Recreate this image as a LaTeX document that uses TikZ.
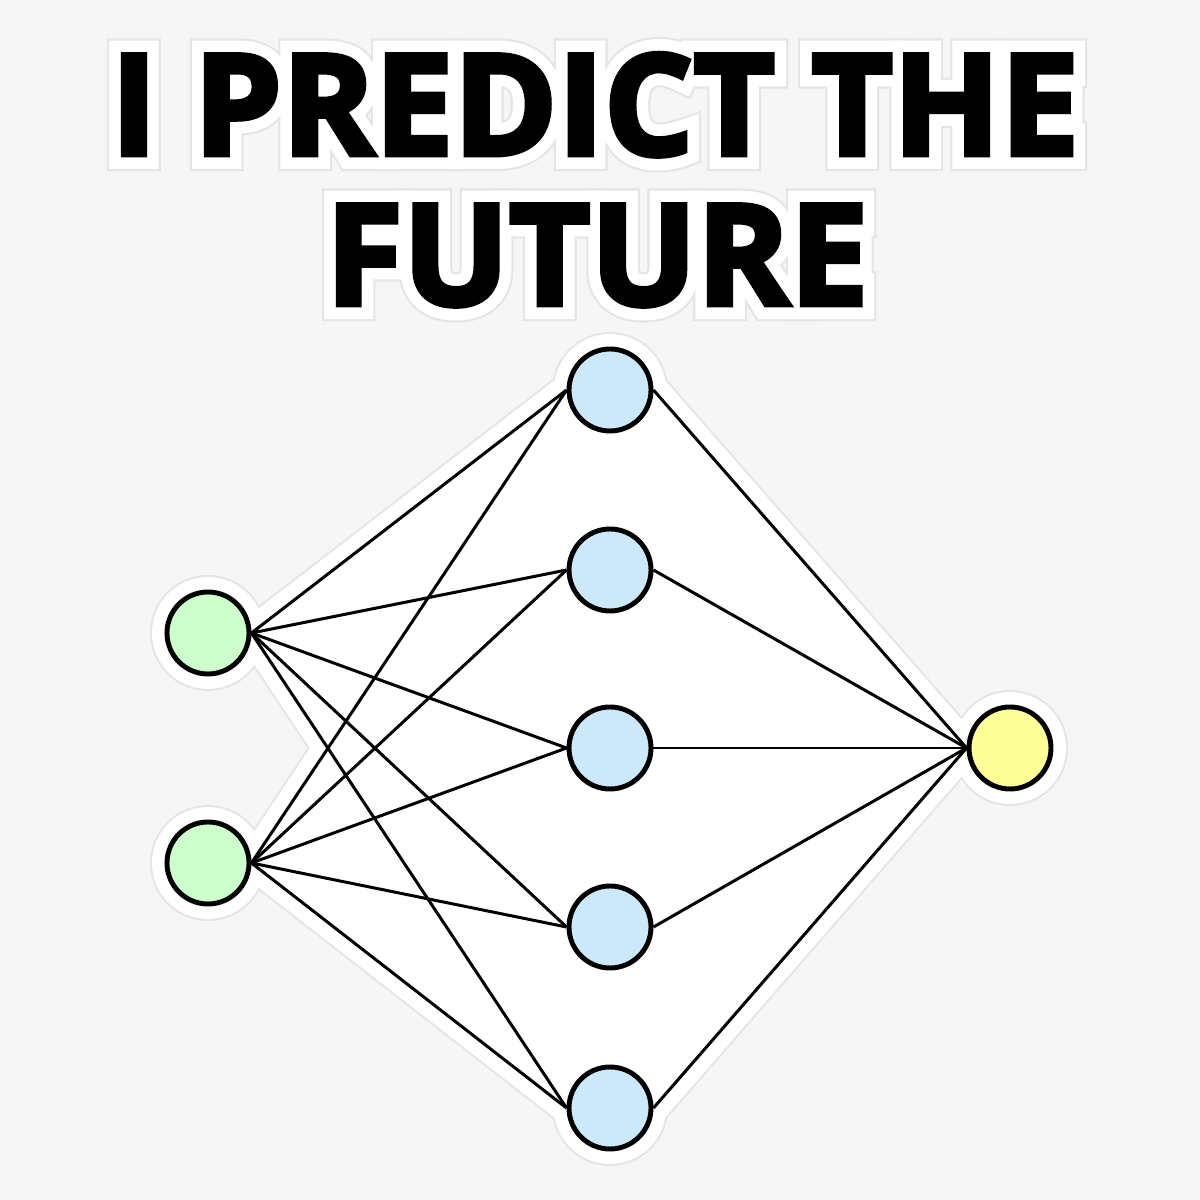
\documentclass[tikz,border=0pt]{standalone}
\usepackage{fontspec}
\setmainfont{Open Sans}
\usetikzlibrary{backgrounds,calc}
\definecolor{stickerbg}{HTML}{F6F6F6}
\definecolor{ingreen}{HTML}{CCFFCC}
\definecolor{hidblue}{HTML}{CCE9FB}
\definecolor{outyellow}{HTML}{FFFF99}
\newcommand\halotext[1]{%
  \rlap{\color{gray!20}\addfontfeature{FakeBold=23}#1}%
  \rlap{\color{white}\addfontfeature{FakeBold=20}#1}%
  {\addfontfeature{FakeBold=3.5}#1}}
\tikzset{
  neuron/.style={circle, draw=black, line width=1.4pt, minimum size=0.82cm, inner sep=0pt},
  synapse/.style={black, line width=0.85pt},
  title/.style={font=\bfseries\fontsize{40}{40}\selectfont, inner sep=0pt, anchor=base},
}
\begin{document}
\begin{tikzpicture}
\useasboundingbox (0,0) rectangle (12,12);
% title
\node[title] (line1) at (5.95,10.45) {\halotext{I PREDICT THE}};
\node[title] (line2) at (5.97,8.95) {\halotext{FUTURE}};
% network
\node[neuron, fill=ingreen] (i1) at (2.08,5.67) {};
\node[neuron, fill=ingreen] (i2) at (2.08,3.37) {};
\foreach \n/\y in {1/8.10,2/6.30,3/4.52,4/2.73,5/0.92}
  \node[neuron, fill=hidblue] (h\n) at (6.10,\y) {};
\node[neuron, fill=outyellow] (o) at (10.10,4.52) {};
\foreach \i in {1,2}
  \foreach \h in {1,...,5}
    \draw[synapse] (i\i.east) -- (h\h.west);
\foreach \h in {1,...,5}
  \draw[synapse] (h\h.east) -- (o.west);
% sticker underlay
\coordinate (notch) at (intersection of i1.east--h5.west and i2.east--h1.west);
\begin{pgfonlayer}{background}
\fill[stickerbg] (0,0) rectangle (12,12);
\draw[gray!20, fill=gray!20, line width=0.34cm, line join=round]
  (i1.east) -- (h1.west) -- (h1.east) -- (o.west) -- (h5.east) -- (h5.west)
  -- (i2.east) -- (notch) -- cycle;
\foreach \n in {i1,i2,h1,h5,o}
  \fill[gray!20] (\n.center) circle[radius=0.58];
\draw[white, fill=white, line width=0.3cm, line join=round]
  (i1.east) -- (h1.west) -- (h1.east) -- (o.west) -- (h5.east) -- (h5.west)
  -- (i2.east) -- (notch) -- cycle;
\foreach \n in {i1,i2,h1,h5,o}
  \fill[white] (\n.center) circle[radius=0.56];
\end{pgfonlayer}
\end{tikzpicture}
\end{document}
